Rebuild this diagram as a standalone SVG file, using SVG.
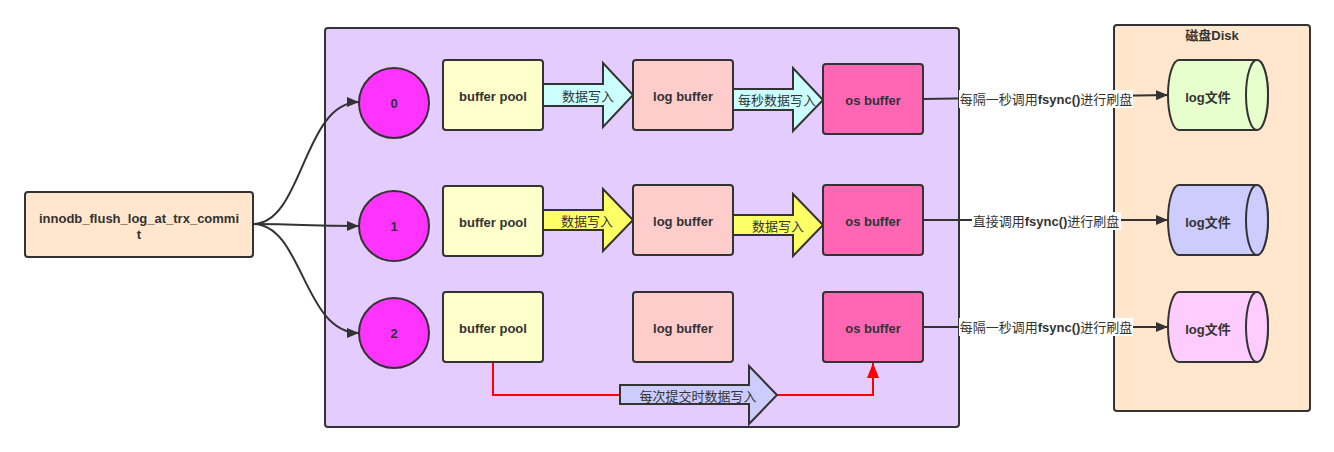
<svg xmlns="http://www.w3.org/2000/svg" width="1334" height="452" viewBox="0 0 1334 452">
<defs>
<style>
text{font-family:"Liberation Sans","Noto Sans CJK SC",sans-serif;fill:#333;font-size:13px;text-anchor:middle;dominant-baseline:central}
.b{font-weight:bold}
.nd{stroke:#333;stroke-width:2}
.bp{fill:#FFFFCC}
.lb{fill:#FFCCCC}
.ob{fill:#FF66B3}
.cir{fill:#FF33FF}
.conn{fill:none;stroke:#333;stroke-width:2}
.red{fill:none;stroke:#FF0000;stroke-width:2}
.lbl{fill:#fff}
</style>
<marker id="ah" viewBox="0 0 12 10" refX="12" refY="5" markerWidth="12" markerHeight="10" markerUnits="userSpaceOnUse" orient="auto">
<path d="M0,0 L12,5 L0,10 Z" fill="#333"/>
</marker>
</defs>
<rect width="1334" height="452" fill="#fff"/>

<g id="container-main">
<rect x="325" y="28" width="634" height="399" rx="3" fill="#E5CCFF" class="nd"/>
</g>
<g id="container-disk">
<rect x="1114" y="25" width="196" height="386" rx="3" fill="#FFE6CC" class="nd"/>
<text x="1212" y="35" class="b">磁盘Disk</text>
</g>

<g id="node-innodb">
<rect x="25" y="192" width="228" height="65" rx="3" fill="#FFE6CC" class="nd"/>
<text x="139" y="218" class="b">innodb_flush_log_at_trx_commi</text>
<text x="139" y="234" class="b">t</text>
</g>

<g id="connectors">
<path class="conn" d="M253,224 C303,224 303,102 359,102" marker-end="url(#ah)"/>
<path class="conn" d="M253,224 C303,224 303,226 359,226" marker-end="url(#ah)"/>
<path class="conn" d="M253,224 C303,224 303,333 359,333" marker-end="url(#ah)"/>
<path class="red" d="M493,362 V395 H620"/>
<path class="red" d="M777,395 H873 V363"/>
<path d="M867,378 L873,363 L879,378 Z" fill="#FF0000"/>
<path class="conn" d="M923,99 L1168,95" marker-end="url(#ah)"/>
<path class="conn" d="M923,220 L1168,220" marker-end="url(#ah)"/>
<path class="conn" d="M923,327 L1168,327" marker-end="url(#ah)"/>
<rect x="959" y="90" width="174" height="18" class="lbl"/>
<text x="1046" y="99">每隔一秒调用<tspan class="b">fsync()</tspan>进行刷盘</text>
<rect x="972" y="212" width="149" height="18" class="lbl"/>
<text x="1046" y="221">直接调用<tspan class="b">fsync()</tspan>进行刷盘</text>
<rect x="959" y="318" width="174" height="18" class="lbl"/>
<text x="1046" y="327">每隔一秒调用<tspan class="b">fsync()</tspan>进行刷盘</text>
</g>

<g id="arrow-r0-a">
<polygon class="nd" fill="#CCFFFF" points="543,84 603,84 603,63 633,95 603,127 603,106 543,106"/>
<text x="588" y="96">数据写入</text>
</g>
<g id="arrow-r0-b">
<polygon class="nd" fill="#CCFFFF" points="733,89 793,89 793,68 823,100 793,131 793,110 733,110"/>
<text x="777" y="100">每秒数据写入</text>
</g>
<g id="arrow-r1-a">
<polygon class="nd" fill="#FFFF66" points="543,210 603,210 603,189 633,220 603,251 603,230 543,230"/>
<text x="587" y="221">数据写入</text>
</g>
<g id="arrow-r1-b">
<polygon class="nd" fill="#FFFF66" points="733,215 793,215 793,194 823,225 793,256 793,235 733,235"/>
<text x="778" y="226">数据写入</text>
</g>
<g id="arrow-r2">
<polygon class="nd" fill="#CCCCFF" points="620,385 749,385 749,366 777,395 749,424 749,404 620,404"/>
<text x="698" y="396">每次提交时数据写入</text>
</g>

<g id="circle-0"><circle cx="394" cy="103" r="35" class="nd cir"/><text x="394" y="103" class="b">0</text></g>
<g id="circle-1"><circle cx="394" cy="226" r="35" class="nd cir"/><text x="394" y="226" class="b">1</text></g>
<g id="circle-2"><circle cx="394" cy="333" r="35" class="nd cir"/><text x="394" y="333" class="b">2</text></g>

<g id="bp-0"><rect x="443" y="60" width="100" height="70" rx="3" class="nd bp"/><text x="493" y="96" class="b">buffer pool</text></g>
<g id="bp-1"><rect x="443" y="186" width="100" height="70" rx="3" class="nd bp"/><text x="493" y="222" class="b">buffer pool</text></g>
<g id="bp-2"><rect x="443" y="292" width="100" height="70" rx="3" class="nd bp"/><text x="493" y="328" class="b">buffer pool</text></g>

<g id="lb-0"><rect x="633" y="60" width="100" height="70" rx="3" class="nd lb"/><text x="683" y="96" class="b">log buffer</text></g>
<g id="lb-1"><rect x="633" y="185" width="100" height="70" rx="3" class="nd lb"/><text x="683" y="221" class="b">log buffer</text></g>
<g id="lb-2"><rect x="633" y="292" width="100" height="70" rx="3" class="nd lb"/><text x="683" y="328" class="b">log buffer</text></g>

<g id="ob-0"><rect x="823" y="64" width="100" height="70" rx="3" class="nd ob"/><text x="873" y="100" class="b">os buffer</text></g>
<g id="ob-1"><rect x="823" y="185" width="100" height="70" rx="3" class="nd ob"/><text x="873" y="221" class="b">os buffer</text></g>
<g id="ob-2"><rect x="823" y="292" width="100" height="70" rx="3" class="nd ob"/><text x="873" y="328" class="b">os buffer</text></g>

<g id="log-0">
<path class="nd" fill="#E6FFCC" d="M1179,60 H1257 A11,35 0 0 1 1257,130 H1179 A11,35 0 0 1 1179,60 Z"/>
<ellipse cx="1257" cy="95" rx="11" ry="35" class="nd" fill="#E6FFCC"/>
<text x="1208" y="97" class="b">log文件</text>
</g>
<g id="log-1">
<path class="nd" fill="#CCCCFF" d="M1179,185 H1257 A11,35 0 0 1 1257,255 H1179 A11,35 0 0 1 1179,185 Z"/>
<ellipse cx="1257" cy="220" rx="11" ry="35" class="nd" fill="#CCCCFF"/>
<text x="1208" y="222" class="b">log文件</text>
</g>
<g id="log-2">
<path class="nd" fill="#FFCCFF" d="M1179,292 H1257 A11,35 0 0 1 1257,362 H1179 A11,35 0 0 1 1179,292 Z"/>
<ellipse cx="1257" cy="327" rx="11" ry="35" class="nd" fill="#FFCCFF"/>
<text x="1208" y="329" class="b">log文件</text>
</g>
</svg>
